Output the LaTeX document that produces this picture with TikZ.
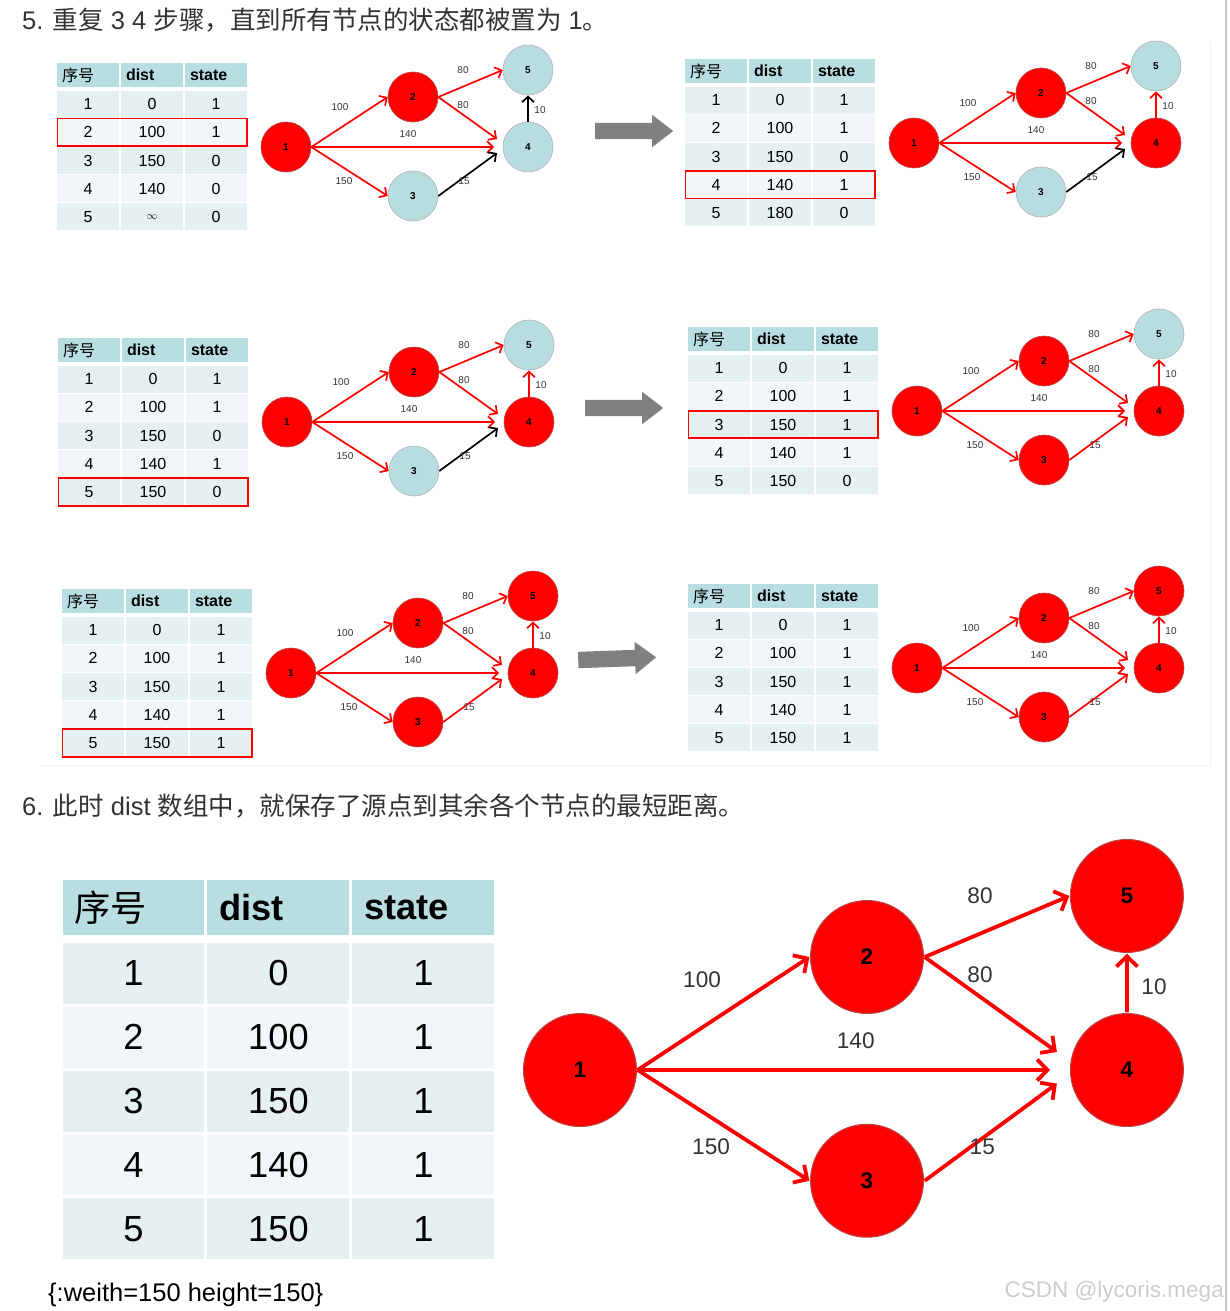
\documentclass[tikz,border=0pt]{standalone}
\usepackage{fontspec}
\setmainfont{Liberation Sans}
\newfontfamily\cjk{Noto Sans CJK SC}
\usetikzlibrary{arrows.meta,positioning,shapes.arrows,fit}

\definecolor{hdcol}{HTML}{B9DEE2}
\definecolor{rowA}{HTML}{E4F0F2}
\definecolor{rowB}{HTML}{F1F7F9}
\definecolor{nodeblue}{HTML}{B8DDE1}
\definecolor{txtgray}{HTML}{333333}

\tikzset{
  vtx/.style={circle, minimum size=50pt, inner sep=0pt, line width=0.6pt,
    font=\fontsize{10}{10}\selectfont\bfseries},
  redvtx/.style={vtx, fill=red, draw=gray!55!red},
  bluevtx/.style={vtx, fill=nodeblue, draw=gray!60},
  s1/.style={redvtx}, s2/.style={redvtx}, s3/.style={redvtx},
  s4/.style={redvtx}, s5/.style={redvtx},
  redline/.style={draw=red, line width=1.7pt,
    -{Straight Barb[length=2pt 2.2, width=4pt 4.5]}},
  blackline/.style={redline, draw=black},
  e34/.style={redline}, e45/.style={redline},
  wlabel/.style={font=\fontsize{10}{10}\selectfont, text=txtgray, inner sep=1pt},
  cell/.style={minimum width=64pt, minimum height=28.2pt, inner sep=0pt,
    draw=white, line width=1.2pt, font=\fontsize{16}{16}\selectfont},
  hcell/.style={cell, fill=hdcol, minimum height=26pt, text width=52pt,
    align=left, inner xsep=6pt},
  hilite/.style={draw=red, line width=1.8pt, inner xsep=-2pt, inner ysep=-1pt},
  bigarrow/.style={single arrow, fill=gray, draw=none, anchor=tail,
    minimum height=78pt, minimum width=32pt, inner sep=8pt,
    single arrow head extend=8pt, single arrow tip angle=75},
  title/.style={anchor=west, inner sep=0pt, text=txtgray,
    font=\fontsize{25.5}{25.5}\selectfont}
}

% table of one step: prefix, rows number/dist/state
\newcommand{\dtable}[2]{%
  \node[hcell] (#1-h1) at (32,13) {\cjk 序号};
  \node[hcell, font=\fontsize{16}{16}\selectfont\bfseries] (#1-h2) at (96,13) {dist};
  \node[hcell, font=\fontsize{16}{16}\selectfont\bfseries] (#1-h3) at (160,13) {state};
  \foreach \n/\d/\s [count=\r] in {#2} {
    \ifodd\r \def\rowfill{rowA}\else \def\rowfill{rowB}\fi
    \node[cell, fill=\rowfill] (#1-\r-1) at (32,{28.2*\r+13.9}) {\n};
    \node[cell, fill=\rowfill] (#1-\r-2) at (96,{28.2*\r+13.9}) {\d};
    \node[cell, fill=\rowfill] (#1-\r-3) at (160,{28.2*\r+13.9}) {\s};
  }
}

% graph of one step, node 1 at the origin
\newcommand{\dgraph}[1]{%
  \node[s1] (#1-1) at (0,0) {1};
  \node[s2] (#1-2) at (127,-50) {2};
  \node[s3] (#1-3) at (127,49) {3};
  \node[s4] (#1-4) at (242,0) {4};
  \node[s5] (#1-5) at (242,-77) {5};
  % arrow ends short of node 4
  \coordinate (#1-in1) at (208,0);
  \coordinate (#1-in2) at (211,-8);
  \coordinate (#1-in3) at (211,6);
  \draw[redline] (#1-1.east) -- (#1-2.west);
  \draw[redline] (#1-1.east) -- (#1-3.west);
  \draw[redline] (#1-1.east) -- (#1-in1);
  \draw[redline] (#1-2.east) -- (#1-5.west);
  \draw[redline] (#1-2.east) -- (#1-in2);
  \draw[e34] (#1-3.east) -- (#1-in3);
  \draw[e45] (#1-4) -- (#1-5);
  \node[wlabel] (#1-w12) at (54,-40) {100};
  \node[wlabel] (#1-w14) at (122,-13) {140};
  \node[wlabel] (#1-w13) at (58,34) {150};
  \node[wlabel] (#1-w25) at (177,-77) {80};
  \node[wlabel] (#1-w24) at (177,-42) {80};
  \node[wlabel] (#1-w45) at (254,-37) {10};
  \node[wlabel] (#1-w34) at (178,34) {15};
}

\begin{document}
\begin{tikzpicture}[x=1pt, y=-1pt]
\fill[white] (0,0) rectangle (1229,1311);
\useasboundingbox (0,0) rectangle (1229,1311);

% page edge and frame of the steps
\draw[gray!10] (1210,42) -- (1210,765) -- (40,765);
\draw[gray!45, line width=1.5pt] (1226,0) -- (1226,1311);

% step 5 heading
\node[title] (step5) at (22,20) {5. {\cjk 重复} 3 4 {\cjk 步骤，直到所有节点的状态都被置为} 1{\cjk 。}};

% row 1
\begin{scope}[shift={(56,62)}]
  \dtable{ta}{1/0/1, 2/100/1, 3/150/0, 4/140/0, 5/{\fontsize{11}{11}\selectfont$\infty$}/0}
\end{scope}
\node[hilite, fit=(ta-2-1)(ta-2-3)] (ta-hl) {};
\begin{scope}[shift={(286,147)}, s3/.style={bluevtx}, s4/.style={bluevtx},
  s5/.style={bluevtx}, e34/.style={blackline}, e45/.style={blackline}]
  \dgraph{ga}
\end{scope}
\node[bigarrow] (arr1) at (595,131) {};
\begin{scope}[shift={(684,58)}]
  \dtable{tb}{1/0/1, 2/100/1, 3/150/0, 4/140/1, 5/180/0}
\end{scope}
\node[hilite, fit=(tb-4-1)(tb-4-3)] (tb-hl) {};
\begin{scope}[shift={(914,143)}, s3/.style={bluevtx}, s5/.style={bluevtx},
  e34/.style={blackline}]
  \dgraph{gb}
\end{scope}

% row 2
\begin{scope}[shift={(57,337)}]
  \dtable{tc}{1/0/1, 2/100/1, 3/150/0, 4/140/1, 5/150/0}
\end{scope}
\node[hilite, fit=(tc-5-1)(tc-5-3)] (tc-hl) {};
\begin{scope}[shift={(287,422)}, s3/.style={bluevtx}, s5/.style={bluevtx},
  e34/.style={blackline}]
  \dgraph{gc}
\end{scope}
\node[bigarrow] (arr2) at (585,408) {};
\begin{scope}[shift={(687,326)}]
  \dtable{td}{1/0/1, 2/100/1, 3/150/1, 4/140/1, 5/150/0}
\end{scope}
\node[hilite, fit=(td-3-1)(td-3-3)] (td-hl) {};
\begin{scope}[shift={(917,411)}, s5/.style={bluevtx}]
  \dgraph{gd}
\end{scope}

% row 3
\begin{scope}[shift={(61,588)}]
  \dtable{te}{1/0/1, 2/100/1, 3/150/1, 4/140/1, 5/150/1}
\end{scope}
\node[hilite, fit=(te-5-1)(te-5-3)] (te-hl) {};
\begin{scope}[shift={(291,673)}]
  \dgraph{ge}
\end{scope}
\node[bigarrow, rotate=2] (arr3) at (578,660) {};
\begin{scope}[shift={(687,583)}]
  \dtable{tf}{1/0/1, 2/100/1, 3/150/1, 4/140/1, 5/150/1}
\end{scope}
\begin{scope}[shift={(917,668)}]
  \dgraph{gf}
\end{scope}

% step 6 heading
\node[title] (step6) at (22,806) {6. {\cjk 此时} dist {\cjk 数组中，就保存了源点到其余各个节点的最短距离。}};

% final result
\begin{scope}[shift={(61,878)}, scale=2.265, transform shape,
  cell/.append style={line width=3pt}]
  \dtable{tz}{1/0/1, 2/100/1, 3/150/1, 4/140/1, 5/150/1}
\end{scope}
\begin{scope}[shift={(580,1070)}, scale=2.26, transform shape,
  redline/.append style={line width=3.8pt}, vtx/.append style={line width=1pt}]
  \dgraph{gz}
\end{scope}

\node[anchor=west, inner sep=0pt, font=\fontsize{25.5}{25.5}\selectfont] (note) at (48,1295) {\{:weith=150 height=150\}};
\node[anchor=east, inner sep=0pt, text=gray!40, font=\fontsize{22.5}{22.5}\selectfont] (csdn) at (1224,1292) {CSDN @lycoris.mega};
\end{tikzpicture}
\end{document}
